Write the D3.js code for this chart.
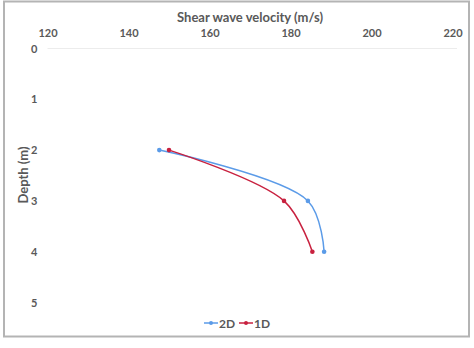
<!DOCTYPE html>
<html><head><meta charset="utf-8">
<script src="https://cdn.jsdelivr.net/npm/d3@7"></script>
<style>body{margin:0;background:#fff}svg{display:block}</style>
</head><body>
<script>
const depths = [2, 3, 4];
const vel2D = [147.6, 184.3, 188.3];
const vel1D = [150, 178.4, 185.4];
const xTicks = [120, 140, 160, 180, 200, 220];
const yTicks = [0, 1, 2, 3, 4, 5];
const seriesNames = ["2D", "1D"];
const colors = ["#5b9be8", "#c8213f"];

const W = 474, H = 348;
const svg = d3.select("body").append("svg").attr("width", W).attr("height", H);
svg.append("rect").attr("x", 4).attr("y", 1.5).attr("width", 465).attr("height", 335)
  .attr("fill", "#fff").attr("stroke", "#b4b4b4").attr("stroke-width", 2);

const x = d3.scaleLinear().domain([120, 220]).range([47.5, 452.5]);
const y = d3.scaleLinear().domain([0, 5]).range([48.5, 302.5]);
const font = "Lato, 'Open Sans', sans-serif";

svg.append("line").attr("x1", x(120)).attr("x2", 457).attr("y1", y(0)).attr("y2", y(0))
  .attr("stroke", "#ececec").attr("stroke-width", 1);

const xa = svg.append("g").attr("transform", `translate(0,${y(0)})`)
  .call(d3.axisTop(x).tickValues(xTicks).tickFormat(d3.format("d")).tickSize(0).tickPadding(12));
xa.select(".domain").remove();
xa.selectAll("text").attr("font-family", font).attr("font-size", 11).attr("font-weight", "bold").attr("fill", "#595959");

const ya = svg.append("g").attr("transform", `translate(${x(120)},0)`)
  .call(d3.axisLeft(y).tickValues(yTicks).tickFormat(d3.format("d")).tickSize(0).tickPadding(10));
ya.select(".domain").remove();
ya.selectAll("text").attr("font-family", font).attr("font-size", 11).attr("font-weight", "bold").attr("fill", "#595959");

svg.append("text").attr("x", 250).attr("y", 22).attr("text-anchor", "middle")
  .attr("font-family", font).attr("font-size", 13).attr("font-weight", "bold").attr("fill", "#595959")
  .text("Shear wave velocity (m/s)");
svg.append("text").attr("transform", "translate(27.5,175) rotate(-90)").attr("text-anchor", "middle")
  .attr("font-family", font).attr("font-size", 13).attr("font-weight", "bold").attr("fill", "#595959")
  .text("Depth (m)");

const line = d3.line().x(d => x(d[0])).y(d => y(d[1])).curve(d3.curveCatmullRom.alpha(0.5));
[vel2D, vel1D].forEach((vals, i) => {
  const pts = vals.map((v, j) => [v, depths[j]]);
  svg.append("path").attr("d", line(pts)).attr("fill", "none").attr("stroke", colors[i]).attr("stroke-width", 1.5);
  svg.selectAll(null).data(pts).enter().append("circle")
    .attr("cx", d => x(d[0])).attr("cy", d => y(d[1])).attr("r", 2.3).attr("fill", colors[i]);
});

const lg = svg.append("g");
const lx = [204, 239];
seriesNames.forEach((n, i) => {
  lg.append("line").attr("x1", lx[i]).attr("x2", lx[i] + 14).attr("y1", 323).attr("y2", 323)
    .attr("stroke", colors[i]).attr("stroke-width", 1.5);
  lg.append("circle").attr("cx", lx[i] + 7).attr("cy", 323).attr("r", 2).attr("fill", colors[i]);
  lg.append("text").attr("x", lx[i] + 15).attr("y", 327.5).attr("font-family", font).attr("font-size", 12)
    .attr("font-weight", "bold").attr("fill", "#595959").text(n);
});
</script>
</body></html>
